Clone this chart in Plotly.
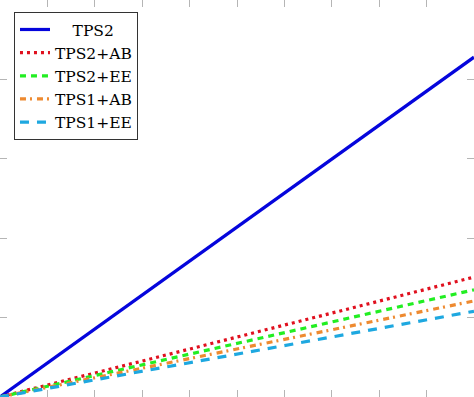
import plotly.graph_objects as go

# Data (arbitrary units: x 0..10, y 0..5)
x_vals = [0, 10]
tps2 = [0, 4.28]
tps2_ab = [0, 1.51]
tps2_ee = [0, 1.35]
tps1_ab = [0, 1.21]
tps1_ee = [0, 1.08]
names = ["TPS2", "TPS2+AB", "TPS2+EE", "TPS1+AB", "TPS1+EE"]
x_ticks = [1, 2, 3, 4, 5, 6, 7, 8, 9]
y_ticks = [1, 2, 3, 4]

series = [tps2, tps2_ab, tps2_ee, tps1_ab, tps1_ee]
colors = ["#0505dc", "#e0101e", "#22ee22", "#ee8a30", "#1ea8e0"]
dashes = ["solid", "3px,4px", "6px,5px", "6px,4px,2px,5px", "9px,8px"]
labels = ["\u2002\u00a0\u00a0" + names[0]] + names[1:]

fig = go.Figure()
for s, c, d, lab in zip(series, colors, dashes, labels):
    fig.add_trace(go.Scatter(x=x_vals, y=s, mode="lines", name=lab,
                             line=dict(color=c, width=3.2, dash=d)))

axis_common = dict(showgrid=False, zeroline=False, showline=False,
                   showticklabels=False, ticks="inside", ticklen=7,
                   tickwidth=1, tickcolor="#b5b5b5", mirror="ticks")
fig.update_xaxes(range=[0, 10], tickvals=x_ticks, **axis_common)
fig.update_yaxes(range=[0, 5], tickvals=y_ticks, **axis_common)

fig.update_layout(
    width=474, height=397,
    margin=dict(l=0, r=0, t=0, b=0),
    paper_bgcolor="white", plot_bgcolor="white",
    legend=dict(x=0.0295, y=0.97, xanchor="left", yanchor="top",
                bgcolor="white", bordercolor="#333333", borderwidth=1,
                font=dict(family="DejaVu Serif", size=15.5, color="black"),
                tracegroupgap=0, itemwidth=30),
)
fig.write_html("out.html", config={"displayModeBar": False},
               post_script="document.body.style.margin='0';"
                           "document.body.style.overflow='hidden';")
